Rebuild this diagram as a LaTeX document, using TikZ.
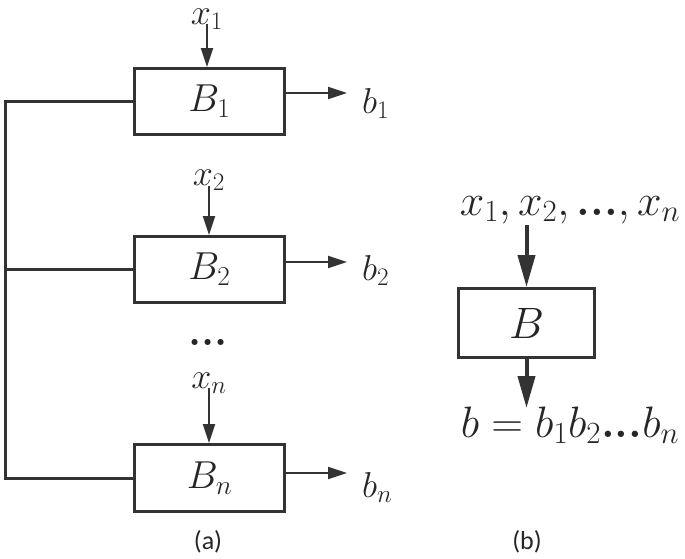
\RequirePackage{fix-cm}
\documentclass[tikz,border=0pt]{standalone}
\usepackage{fontspec}
\newfontfamily\capfont{Carlito}
\usetikzlibrary{arrows.meta}
\definecolor{lc}{HTML}{333333}
\definecolor{tc}{HTML}{262626}
\begin{document}
\begin{tikzpicture}[x=1pt,y=-1pt,
  blk/.style={draw=lc, line width=3pt, inner sep=0pt, text=tc},
  lbla/.style={inner sep=0pt, text=tc, font=\fontsize{36}{40}\selectfont},
  lblb/.style={inner sep=0pt, text=tc, font=\fontsize{44}{48}\selectfont},
  capt/.style={inner sep=0pt, text=tc, font=\capfont\fontsize{26}{28}\selectfont},
  bus/.style={draw=lc, line width=3pt, line join=miter},
  arra/.style={draw=lc, line width=2pt, -{Triangle[length=19pt,width=12pt]}},
  arrb/.style={draw=lc, line width=4pt, -{Triangle[length=32pt,width=17pt]}}]
\useasboundingbox (0,0) rectangle (685,558);
% ---- (a) ----
\node[blk, minimum width=150pt, minimum height=66pt, font=\fontsize{39}{44}\selectfont] (B1) at (209.5,101.5) {$B_1$};
\node[blk, minimum width=150pt, minimum height=66pt, font=\fontsize{39}{44}\selectfont] (B2) at (209.5,269.5) {$B_2$};
\node[blk, minimum width=150pt, minimum height=67pt, font=\fontsize{39}{44}\selectfont] (Bn) at (209.5,478) {$B_n$};
\coordinate (bus1) at (5,101.5);
\coordinate (bus2) at (5,269.5);
\coordinate (busn) at (5,478);
\draw[bus] (B1.west) -- (bus1) -- (busn) -- (Bn.west);
\draw[bus] (bus2) -- (B2.west);
\node[lbla, anchor=base] (x1) at (207,24) {$x_1$};
\node[lbla, anchor=base] (x2) at (209,185) {$x_2$};
\node[lbla, font=\fontsize{42}{44}\selectfont, anchor=base] (dots) at (208,345) {\textbf{...}};
\node[lbla, anchor=base] (xn) at (209,388) {$x_n$};
\draw[arra] ([yshift=6pt]x1.south) -- (x1.south |- B1.north);
\draw[arra] ([yshift=5pt]x2.south) -- (x2.south |- B2.north);
\draw[arra] ([yshift=6pt]xn.south) -- (xn.south |- Bn.north);
\coordinate (o1) at (347,93);
\coordinate (o2) at (347,262);
\coordinate (on) at (347,473);
\draw[arra] (B1.east |- o1) -- (o1);
\draw[arra] (B2.east |- o2) -- (o2);
\draw[arra] (Bn.east |- on) -- (on);
\node[lbla, anchor=base west] (b1) at (362,113) {$b_1$};
\node[lbla, anchor=base west] (b2) at (362,280) {$b_2$};
\node[lbla, anchor=base west] (bn) at (362,497) {$b_n$};
\node[capt, anchor=base] (ca) at (208,549) {(a)};
% ---- (b) ----
\node[lblb, anchor=base] (xs) at (570,215) {$x_1, x_2, \textbf{...}, x_n$};
\node[blk, minimum width=136pt, minimum height=69pt, font=\fontsize{44}{48}\selectfont] (B) at (526.5,323) {$B$};
\coordinate (bt) at (526.5,225);
\coordinate (bb) at (526.5,408);
\draw[arrb] (bt) -- (B.north);
\draw[arrb] (B.south) -- (bb);
\node[lblb, anchor=base] (bf) at (570,437) {$b = b_1b_2\textbf{...}b_n$};
\node[capt, anchor=base] (cb) at (527,549) {(b)};
\end{tikzpicture}
\end{document}
